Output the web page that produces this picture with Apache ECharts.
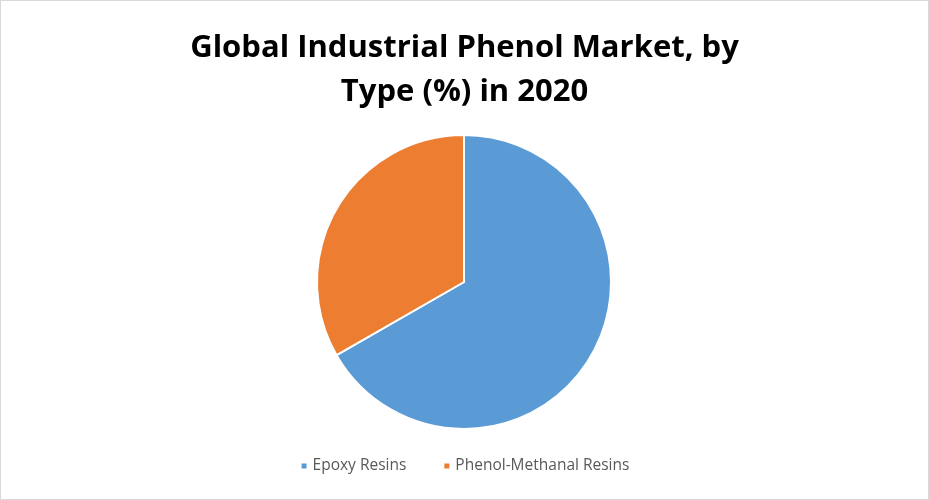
<!DOCTYPE html>
<html><head><meta charset="utf-8">
<script src="https://cdn.jsdelivr.net/npm/echarts@6/dist/echarts.min.js"></script>
<style>html,body{margin:0;padding:0;background:#fff}#c{width:929px;height:500px;box-sizing:border-box;border:1px solid #d9d9d9}</style>
</head><body><div id="c"></div>
<script>
const categories = ["Epoxy Resins", "Phenol-Methanal Resins"];
const values = [66.7, 33.3];
const colors = ["#5b9bd5", "#ed7d31"];
const chart = echarts.init(document.getElementById('c'));
chart.setOption({
  animation: false,
  title: {
    text: "Global Industrial Phenol Market, by\nType (%) in 2020",
    left: 'center', top: 20,
    textStyle: {fontFamily: 'Open Sans', fontWeight: 'bold', fontSize: 31, color: '#000', lineHeight: 44}
  },
  legend: {
    bottom: 20, left: 'center', icon: 'rect', itemWidth: 7, itemHeight: 7, itemGap: 36,
    textStyle: {fontFamily: 'Open Sans', fontSize: 15.5, color: '#595959'},
    data: categories
  },
  series: [{
    type: 'pie', center: [463, 281], radius: 147, startAngle: 90, clockwise: true,
    label: {show: false}, labelLine: {show: false},
    itemStyle: {borderColor: '#fff', borderWidth: 2},
    data: categories.map((n, i) => ({name: n, value: values[i], itemStyle: {color: colors[i]}}))
  }]
});
</script></body></html>
